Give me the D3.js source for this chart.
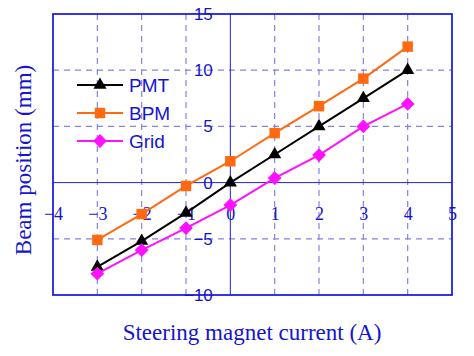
<!DOCTYPE html>
<html><head><meta charset="utf-8">
<script src="https://cdn.jsdelivr.net/npm/d3@7"></script>
<style>
html,body{margin:0;padding:0;background:#fff;}
svg{display:block;}
</style></head>
<body>
<script>
const currents = [-3, -2, -1, 0, 1, 2, 3, 4];
const pmt  = [-7.5, -5.2, -2.7, 0, 2.5, 5.0, 7.5, 10.0];
const bpm  = [-5.1, -2.8, -0.3, 1.9, 4.4, 6.8, 9.25, 12.1];
const grid = [-8.1, -6.0, -4.05, -2.0, 0.4, 2.45, 5.0, 7.0];
const seriesNames = ["PMT", "BPM", "Grid"];
const xTicks = [-4, -3, -2, -1, 0, 1, 2, 3, 4, 5];
const yTicks = [-10, -5, 0, 5, 10, 15];
const xGrid = [-3, -2, -1, 1, 2, 3, 4];
const yGrid = [-5, 5, 10];

const W = 474, H = 356;
const blue = "#2020e0", textBlue = "#1414d2", gridCol = "#8484e4";
const colors = ["#000000", "#ff6a10", "#ff10ff"];
const symbols = [d3.symbolTriangle, d3.symbolSquare, d3.symbolSquare];
const symSizes = [75, 110, 95];
const symRot = [0, 0, 45];

const svg = d3.select("body").append("svg").attr("width", W).attr("height", H);
const x = d3.scaleLinear().domain([-4, 5]).range([53, 452]);
const y = d3.scaleLinear().domain([-10, 15]).range([295, 14]);

// grid
svg.append("g").selectAll("line").data(xGrid).join("line")
  .attr("x1", d => x(d)).attr("x2", d => x(d)).attr("y1", y(15)).attr("y2", y(-10))
  .attr("stroke", gridCol).attr("stroke-width", 1.2).attr("stroke-dasharray", "6,5");
svg.append("g").selectAll("line").data(yGrid).join("line")
  .attr("x1", x(-4)).attr("x2", x(5)).attr("y1", d => y(d)).attr("y2", d => y(d))
  .attr("stroke", gridCol).attr("stroke-width", 1.2).attr("stroke-dasharray", "6,5");

// zero axes
svg.append("line").attr("x1", x(0)).attr("x2", x(0)).attr("y1", y(15)).attr("y2", y(-10))
  .attr("stroke", blue).attr("stroke-width", 1);
svg.append("line").attr("x1", x(-4)).attr("x2", x(5)).attr("y1", y(0)).attr("y2", y(0))
  .attr("stroke", blue).attr("stroke-width", 1);

// frame
svg.append("rect").attr("x", x(-4)).attr("y", y(15)).attr("width", x(5) - x(-4)).attr("height", y(-10) - y(15))
  .attr("fill", "none").attr("stroke", blue).attr("stroke-width", 1.8);

// tick labels via axes
const yAx = svg.append("g").attr("transform", `translate(${x(0)},0)`)
  .call(d3.axisLeft(y).tickValues(yTicks).tickSize(0).tickPadding(17.5).tickFormat(d3.format("d")));
yAx.select(".domain").remove();
yAx.selectAll("text").attr("fill", textBlue).attr("font-family", "Liberation Sans, Arial, sans-serif").attr("font-size", 17);

const xAx = svg.append("g").attr("transform", `translate(0,${y(0)})`)
  .call(d3.axisBottom(x).tickValues(xTicks).tickSize(0).tickPadding(25).tickFormat(d3.format("d")));
xAx.select(".domain").remove();
xAx.selectAll("text").attr("fill", textBlue).attr("font-family", "Liberation Serif, Times New Roman, serif").attr("font-size", 18);

// series
const allSeries = [pmt, bpm, grid];
const line = d3.line().x((d, i) => x(currents[i])).y(d => y(d));
allSeries.forEach((s, k) => {
  svg.append("path").datum(s).attr("d", line).attr("fill", "none")
    .attr("stroke", colors[k]).attr("stroke-width", 2);
  svg.append("g").selectAll("path").data(s).join("path")
    .attr("transform", (d, i) => `translate(${x(currents[i])},${y(d)}) rotate(${symRot[k]})`)
    .attr("d", d3.symbol().type(symbols[k]).size(symSizes[k]))
    .attr("fill", colors[k]);
});

// legend
const legY = [85, 113, 141];
seriesNames.forEach((n, k) => {
  const g = svg.append("g");
  g.append("line").attr("x1", 77).attr("x2", 123).attr("y1", legY[k]).attr("y2", legY[k])
    .attr("stroke", colors[k]).attr("stroke-width", 2);
  g.append("path").attr("transform", `translate(100,${legY[k]}) rotate(${symRot[k]})`)
    .attr("d", d3.symbol().type(symbols[k]).size(symSizes[k])).attr("fill", colors[k]);
  g.append("text").attr("x", 129).attr("y", legY[k]).attr("dy", "0.35em")
    .attr("fill", textBlue).attr("font-family", "Liberation Sans, Arial, sans-serif")
    .attr("font-size", 19).text(n);
});

// axis titles
svg.append("text").attr("transform", "translate(31,160) rotate(-90)").attr("text-anchor", "middle")
  .attr("fill", textBlue).attr("font-family", "Liberation Serif, Times New Roman, serif")
  .attr("font-size", 23).text("Beam position (mm)");
svg.append("text").attr("x", 252).attr("y", 340).attr("text-anchor", "middle")
  .attr("fill", textBlue).attr("font-family", "Liberation Serif, Times New Roman, serif")
  .attr("font-size", 23).text("Steering magnet current (A)");
</script>
</body></html>
